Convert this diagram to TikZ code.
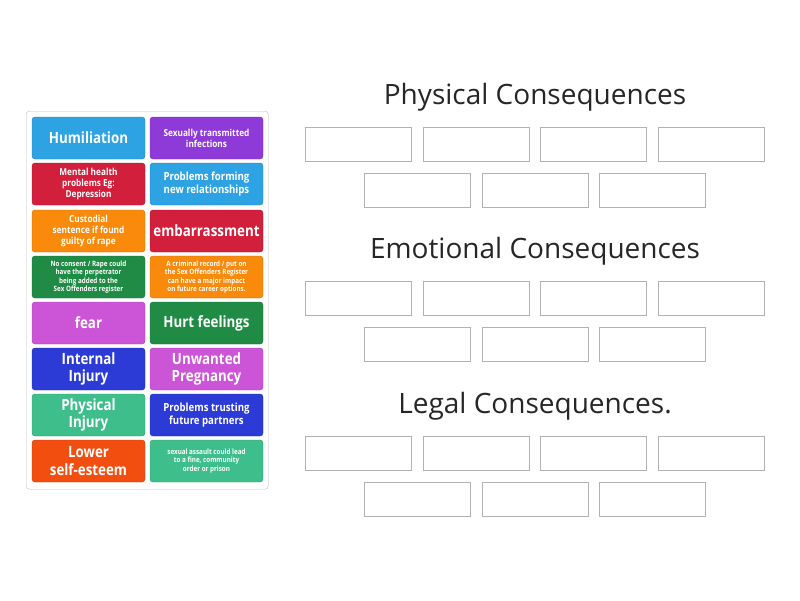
\documentclass[tikz,border=0pt]{standalone}
\usepackage{fontspec}
\setmainfont{Open Sans}
\newfontfamily\tilefont[FakeStretch=0.86]{Open Sans}
\definecolor{cblue}{HTML}{2EA3E3}
\definecolor{cpurple}{HTML}{8E3AD8}
\definecolor{cred}{HTML}{D21F3C}
\definecolor{corange}{HTML}{F98A0B}
\definecolor{cgreen}{HTML}{1F8B45}
\definecolor{cmagenta}{HTML}{CB55D6}
\definecolor{cdblue}{HTML}{2C3BD5}
\definecolor{cteal}{HTML}{3DBE8B}
\definecolor{cored}{HTML}{F24E10}
\tikzset{
  tile/.style={draw=#1!80!black, fill=#1, rounded corners=3pt, minimum width=113pt,
    minimum height=42pt, align=center, text=white, inner sep=1pt},
  tsmall/.style={font=\tilefont\bfseries\fontsize{7.3}{8.3}\selectfont},
  tmid/.style={font=\tilefont\bfseries\fontsize{9.6}{11.2}\selectfont},
  tbig/.style={font=\tilefont\bfseries\fontsize{11.2}{12.4}\selectfont},
  thuge/.style={font=\tilefont\bfseries\fontsize{15.5}{17.5}\selectfont},
  slot/.style={draw=black!30, fill=white, minimum width=106pt, minimum height=34pt},
  title/.style={font=\fontsize{28}{30}\selectfont, text=black!85}
}
\begin{document}
\begin{tikzpicture}[x=1pt,y=-1pt]
\useasboundingbox (0,0) rectangle (800,600);
% word bank
\node[draw=black!25, rounded corners=3pt, minimum width=242pt, minimum height=378pt,
  anchor=north west] (bank) at (26,111) {};
\node[tile=cblue, thuge] (t1) at (88.5,138) {Humiliation};
\node[tile=cpurple, tmid] (t2) at (206.5,138) {Sexually transmitted\\infections};
\node[tile=cred, tmid] (t3) at (88.5,184) {Mental health\\problems Eg:\\Depression};
\node[tile=cblue, tbig] (t4) at (206.5,184) {Problems forming\\new relationships};
\node[tile=corange, tmid] (t5) at (88.5,231) {Custodial\\sentence if found\\guilty of rape};
\node[tile=cred, thuge] (t6) at (206.5,231) {embarrassment};
\node[tile=cgreen, tsmall] (t7) at (88.5,277) {No consent / Rape could\\have the perpetrator\\being added to the\\Sex Offenders register};
\node[tile=corange, tsmall] (t8) at (206.5,277) {A criminal record / put on\\the Sex Offenders Register\\can have a major impact\\on future career options.};
\node[tile=cmagenta, thuge] (t9) at (88.5,323) {fear};
\node[tile=cgreen, thuge] (t10) at (206.5,323) {Hurt feelings};
\node[tile=cdblue, thuge] (t11) at (88.5,369) {Internal\\Injury};
\node[tile=cmagenta, thuge] (t12) at (206.5,369) {Unwanted\\Pregnancy};
\node[tile=cteal, thuge] (t13) at (88.5,415) {Physical\\Injury};
\node[tile=cdblue, tbig] (t14) at (206.5,415) {Problems trusting\\future partners};
\node[tile=cored, thuge] (t15) at (88.5,461) {Lower\\self-esteem};
\node[tile=cteal, tsmall] (t16) at (206.5,461) {sexual assault could lead\\to a fine, community\\order or prison};
% groups
\foreach \n/\txt [count=\i from 0] in {phys/Physical Consequences,emot/Emotional Consequences,legal/Legal Consequences.}{
  \pgfmathsetmacro{\dy}{\i*154.5}
  \node[title] (\n) at (535,{97+\dy}) {\txt};
  \foreach \sx [count=\j] in {358.5,476,593.5,711}
    \node[slot] (\n-a\j) at (\sx,{144+\dy}) {};
  \foreach \sx [count=\j] in {417,535,652}
    \node[slot] (\n-b\j) at (\sx,{190+\dy}) {};
}
\end{tikzpicture}
\end{document}
